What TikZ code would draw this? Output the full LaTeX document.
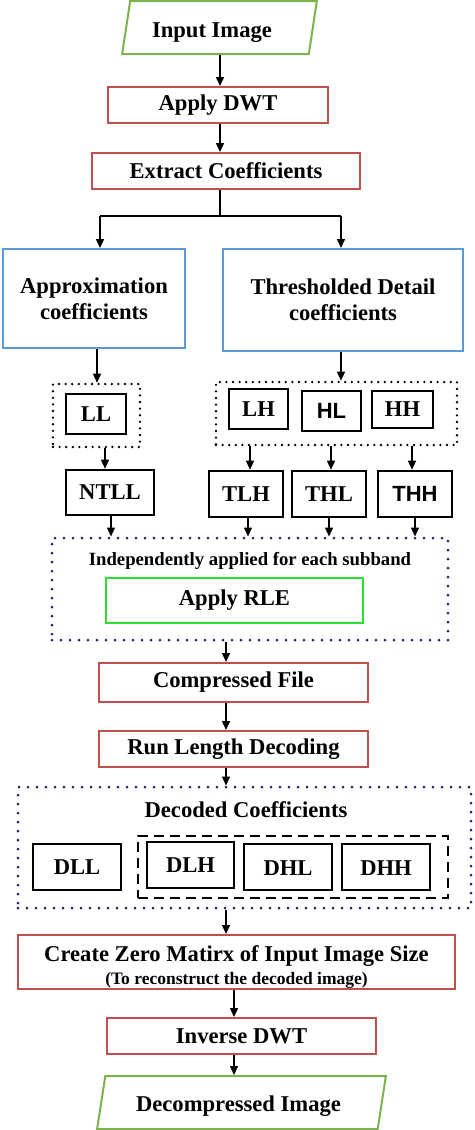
\documentclass[tikz,border=0pt]{standalone}
\usepackage{fontspec}
\setmainfont{Liberation Serif}
\newfontfamily\arialfont{Liberation Sans}
\usetikzlibrary{arrows.meta,shapes.geometric}
\definecolor{pgreen}{HTML}{7AB24E}
\definecolor{pred}{HTML}{C0504D}
\definecolor{pblue}{HTML}{5B9BD5}
\definecolor{rlegreen}{HTML}{2EE02E}
\definecolor{pnavy}{HTML}{1E2272}
\newcommand{\lowerby}[2]{\raisebox{-#1}[\height][\depth]{#2}}
\begin{document}
\begin{tikzpicture}[x=1pt,y=-1pt,
  every node/.style={font=\fontsize{22.6}{26}\selectfont\bfseries, inner sep=0pt, align=center},
  para/.style={trapezium, trapezium left angle=73, trapezium right angle=107, trapezium stretches=true, draw=pgreen, line width=2pt},
  redbox/.style={draw=pred, line width=2pt},
  bluebox/.style={draw=pblue, line width=2pt},
  blkbox/.style={draw=black, line width=2.6pt},
  dotgrp/.style={draw=black, line width=2.6pt, line cap=round, dash pattern=on 0pt off 6.6pt},
  navygrp/.style={draw=pnavy, line width=3pt, line cap=round, dash pattern=on 0pt off 9pt},
  dashgrp/.style={draw=black, line width=2.4pt, dash pattern=on 10pt off 6pt},
  arr/.style={line width=1.5pt, -{Triangle[length=9pt,width=8pt]}},
  ln/.style={line width=1.5pt}]
\useasboundingbox (0,0) rectangle (474,1130);

% top chain
\node[para, minimum width=195pt, minimum height=53pt] (input) at (219.5,27.5) {\lowerby{5pt}{Input Image}\hspace*{15pt}};
\node[redbox, minimum width=220pt, minimum height=36pt] (apply) at (218,105) {Apply DWT};
\node[redbox, minimum width=268pt, minimum height=36pt] (extract) at (226,171) {Extract Coefficients};

\node[bluebox, minimum width=182pt, minimum height=99pt] (approx) at (94,298.5) {Approximation\\coefficients};
\node[bluebox, minimum width=240pt, minimum height=102pt] (thresh) at (343,300) {Thresholded Detail\\coefficients};

% subbands
\node[dotgrp, minimum width=87pt, minimum height=63pt] (llg) at (96.5,415.5) {};
\node[blkbox, minimum width=60pt, minimum height=40pt] (ll) at (96,414) {LL};
\node[dotgrp, minimum width=241pt, minimum height=63pt] (rg) at (336.5,413.5) {};
\node[blkbox, minimum width=59pt, minimum height=40pt] (lh) at (258.5,409) {LH};
\node[blkbox, minimum width=59pt, minimum height=40pt, font=\fontsize{22}{26}\selectfont\bfseries\arialfont] (hl) at (331.5,411) {HL};
\node[blkbox, minimum width=61pt, minimum height=37pt] (hh) at (402.5,409.5) {HH};

\node[blkbox, minimum width=88pt, minimum height=45pt] (ntll) at (110,492.5) {NTLL};
\node[blkbox, minimum width=74pt, minimum height=46pt] (tlh) at (246,494) {TLH};
\node[blkbox, minimum width=74pt, minimum height=46pt] (thl) at (329,494) {THL};
\node[blkbox, minimum width=74pt, minimum height=46pt, font=\fontsize{22}{26}\selectfont\bfseries\arialfont] (thh) at (415,494) {THH};

% RLE group
\node[navygrp, minimum width=396pt, minimum height=102pt] (rlegrp) at (250,589) {};
\node[font=\fontsize{18.7}{22}\selectfont\bfseries] (indep) at (250,561) {Independently applied for each subband};
\node[draw=rlegreen, line width=2pt, minimum width=257pt, minimum height=45pt] (rle) at (234.5,600.5) {Apply RLE};

\node[redbox, minimum width=269pt, minimum height=39pt] (comp) at (233.5,682.5) {Compressed File};
\node[redbox, minimum width=269pt, minimum height=36pt] (rld) at (233.5,749) {Run Length Decoding};

% decoded group
\node[navygrp, minimum width=453pt, minimum height=121pt] (decg) at (244.5,847.5) {};
\node (dectxt) at (246,810) {Decoded Coefficients};
\node[blkbox, minimum width=88pt, minimum height=46pt] (dll) at (77,867) {DLL};
\node[dashgrp, minimum width=310pt, minimum height=62pt] (dashg) at (293,867) {};
\node[blkbox, minimum width=87pt, minimum height=46pt] (dlh) at (190.5,865) {DLH};
\node[blkbox, minimum width=88pt, minimum height=46pt] (dhl) at (288,867) {\lowerby{1.5pt}{DHL}};
\node[blkbox, minimum width=88pt, minimum height=46pt] (dhh) at (386,867) {\lowerby{1.5pt}{DHH}};

\node[redbox, minimum width=437pt, minimum height=54pt] (create) at (236.5,962) {\lowerby{5pt}{\parbox{437pt}{\centering Create Zero Matirx of Input Image Size\\[-3pt]{\fontsize{17.5}{20}\selectfont (To reconstruct the decoded image)}}}};
\node[redbox, minimum width=269pt, minimum height=36pt] (inv) at (241.5,1036) {Inverse DWT};
\node[para, minimum width=289pt, minimum height=53pt] (decomp) at (241.5,1102.5) {\lowerby{4pt}{Decompressed Image}\hspace*{6pt}};

% guide coordinates
\coordinate (gA) at (220,0);
\coordinate (sp) at (220,216);
\coordinate (spL) at (100,216);
\coordinate (spR) at (341,216);
\coordinate (gApp) at (97,0);
\coordinate (gLL) at (105,0);
\coordinate (g2) at (250,0);
\coordinate (g3) at (331,0);
\coordinate (g4) at (412,0);
\coordinate (h1) at (111,0);
\coordinate (h2) at (248,0);
\coordinate (h3) at (329,0);
\coordinate (h4) at (415,0);
\coordinate (gC) at (226,0);
\coordinate (gD) at (234,0);

% connectors
\draw[arr] (input.south -| gA) -- (apply.north -| gA);
\draw[arr] (apply.south -| gA) -- (extract.north -| gA);
\draw[ln] (extract.south -| sp) -- (sp);
\draw[ln] (spL) -- (spR);
\draw[arr] (spL) -- (approx.north -| spL);
\draw[arr] (spR) -- (thresh.north -| spR);
\draw[arr] (approx.south -| gApp) -- (llg.north -| gApp);
\draw[arr] (thresh.south -| spR) -- (rg.north -| spR);
\draw[arr] (llg.south -| gLL) -- (ntll.north -| gLL);
\draw[arr] (rg.south -| g2) -- (tlh.north -| g2);
\draw[arr] (rg.south -| g3) -- (thl.north -| g3);
\draw[arr] (rg.south -| g4) -- (thh.north -| g4);
\draw[arr] (ntll.south -| h1) -- (rlegrp.north -| h1);
\draw[arr] (tlh.south -| h2) -- (rlegrp.north -| h2);
\draw[arr] (thl.south -| h3) -- (rlegrp.north -| h3);
\draw[arr] (thh.south -| h4) -- (rlegrp.north -| h4);
\draw[arr] (rlegrp.south -| gC) -- (comp.north -| gC);
\draw[arr] (comp.south -| gC) -- (rld.north -| gC);
\draw[arr] (rld.south -| gC) -- (decg.north -| gC);
\draw[arr] (decg.south -| gC) -- (create.north -| gC);
\draw[arr] (create.south -| gD) -- (inv.north -| gD);
\draw[arr] (inv.south -| gD) -- (decomp.north -| gD);
\end{tikzpicture}
\end{document}
